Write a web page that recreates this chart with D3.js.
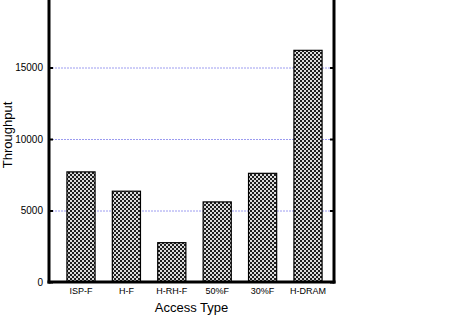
<!DOCTYPE html>
<html>
<head>
<meta charset="utf-8">
<script src="https://cdn.jsdelivr.net/npm/d3@7"></script>
<style>
  body { margin: 0; background: #fff; }
  svg { display: block; }
  text { font-family: "Liberation Sans", Arial, sans-serif; fill: #000; }
</style>
</head>
<body>
<svg id="chart" width="474" height="331"></svg>
<script>
const categories = ["ISP-F", "H-F", "H-RH-F", "50%F", "30%F", "H-DRAM"];
const throughput = [7700, 6350, 2750, 5600, 7600, 16200];
const yTicks = [0, 5000, 10000, 15000];

const svg = d3.select("#chart");
const left = 49, right = 334, bottom = 282;

const y = d3.scaleLinear().domain([0, 20000]).range([bottom, -4]);
const x = d3.scaleBand().domain(categories).range([58.3, 330.7])
  .paddingInner(0.38).paddingOuter(0.19);

const defs = svg.append("defs");
const pat = defs.append("pattern").attr("id", "checker")
  .attr("patternUnits", "userSpaceOnUse").attr("width", 4).attr("height", 4);
pat.append("rect").attr("width", 4).attr("height", 4).attr("fill", "#dcdcdc");
pat.append("rect").attr("x", 0).attr("y", 0).attr("width", 2).attr("height", 2).attr("fill", "#1e1e1e");
pat.append("rect").attr("x", 2).attr("y", 2).attr("width", 2).attr("height", 2).attr("fill", "#1e1e1e");

// grid lines
svg.append("g").selectAll("line").data(yTicks.filter(d => d > 0)).join("line")
  .attr("x1", left).attr("x2", right)
  .attr("y1", d => y(d) + 0.5).attr("y2", d => y(d) + 0.5)
  .attr("stroke", "#9c9cf0").attr("stroke-width", 1)
  .attr("stroke-dasharray", "2,1");

// bars
svg.append("g").selectAll("rect").data(categories).join("rect")
  .attr("x", d => x(d))
  .attr("y", (d, i) => y(throughput[i]))
  .attr("width", x.bandwidth())
  .attr("height", (d, i) => bottom - y(throughput[i]))
  .attr("fill", "url(#checker)")
  .attr("stroke", "#000").attr("stroke-width", 1.2);

// left axis
const yAxisL = d3.axisLeft(y).tickValues(yTicks).tickSize(-4).tickPadding(6).tickFormat(d3.format("d"));
const gL = svg.append("g").attr("transform", `translate(${left},0)`).call(yAxisL);
gL.select(".domain").remove();
gL.selectAll(".tick line").attr("stroke", "#000").attr("stroke-width", 2);
gL.selectAll(".tick text").attr("font-size", 10).attr("font-family", "Liberation Sans, Arial, sans-serif");

// right axis ticks
const yAxisR = d3.axisRight(y).tickValues(yTicks).tickSize(-4).tickFormat("");
const gR = svg.append("g").attr("transform", `translate(${right},0)`).call(yAxisR);
gR.select(".domain").remove();
gR.selectAll(".tick line").attr("stroke", "#000").attr("stroke-width", 2);

// frame lines
svg.append("line").attr("x1", left).attr("x2", left).attr("y1", -2).attr("y2", bottom + 1.5)
  .attr("stroke", "#000").attr("stroke-width", 3);
svg.append("line").attr("x1", right).attr("x2", right).attr("y1", -2).attr("y2", bottom + 1.5)
  .attr("stroke", "#000").attr("stroke-width", 3);
svg.append("line").attr("x1", left - 1.5).attr("x2", right + 1.5).attr("y1", bottom).attr("y2", bottom)
  .attr("stroke", "#000").attr("stroke-width", 3);

// x axis labels
const xAxis = d3.axisBottom(x).tickSize(0).tickPadding(6);
const gX = svg.append("g").attr("transform", `translate(0,${bottom})`).call(xAxis);
gX.select(".domain").remove();
gX.selectAll(".tick text").attr("font-size", 9).attr("font-family", "Liberation Sans, Arial, sans-serif");

// axis titles
svg.append("text").attr("x", (left + right) / 2).attr("y", 312)
  .attr("text-anchor", "middle").attr("font-size", 13).text("Access Type");
svg.append("text").attr("transform", "translate(12,135) rotate(-90)")
  .attr("text-anchor", "middle").attr("font-size", 13).text("Throughput");
</script>
</body>
</html>
